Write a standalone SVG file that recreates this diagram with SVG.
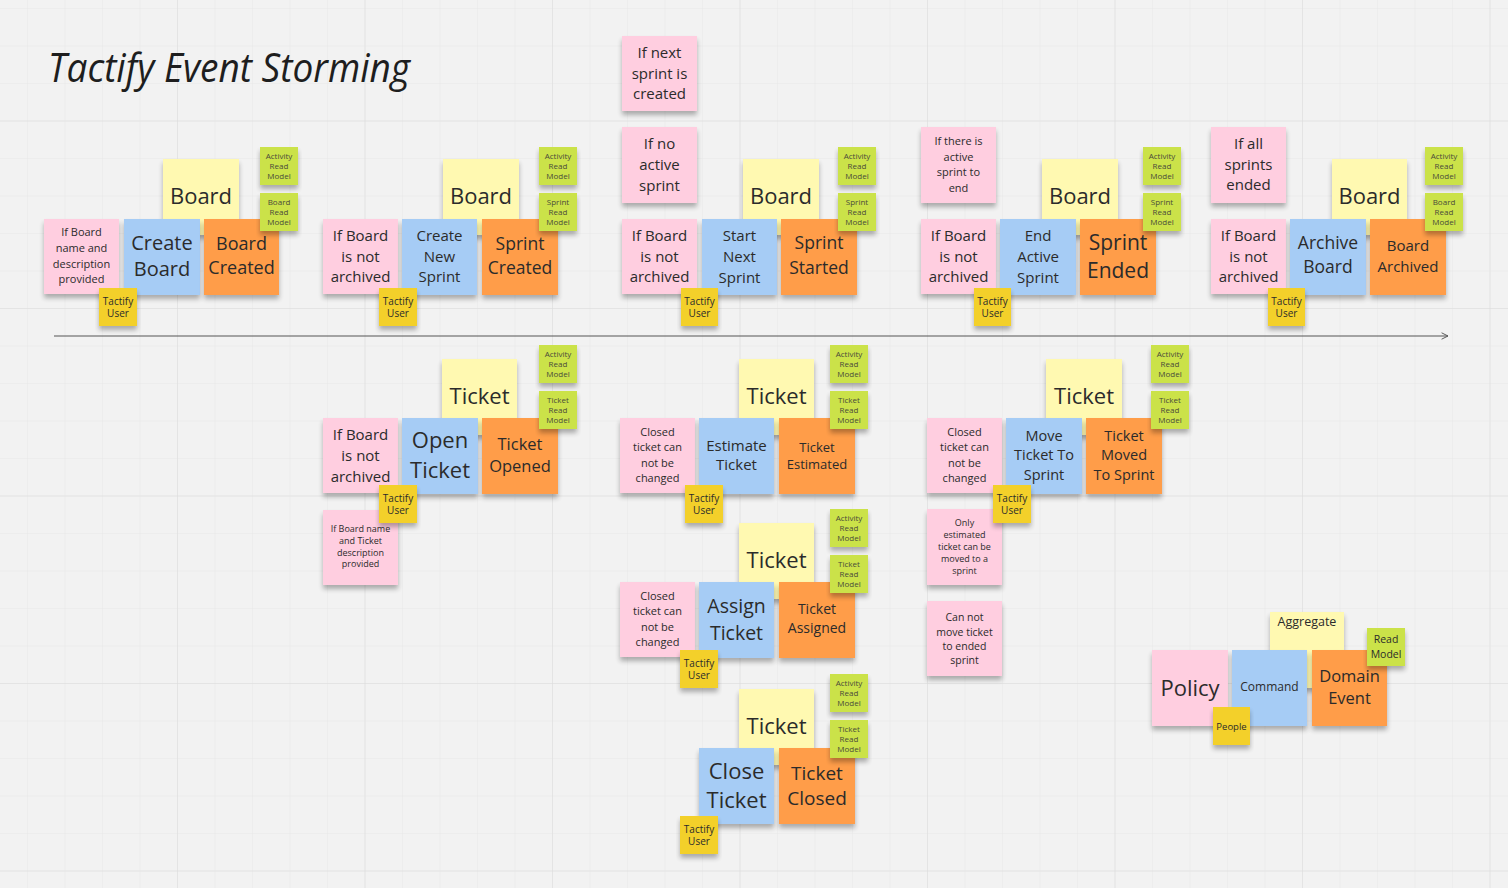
<svg xmlns="http://www.w3.org/2000/svg" width="1508" height="888" viewBox="0 0 1508 888">
<defs>
<pattern id="minor" x="27" y="8" width="37.5" height="37.5" patternUnits="userSpaceOnUse"><path d="M0 0H37.5M0 0V37.5" fill="none" stroke="#e7e7e7" stroke-width="1"/></pattern>
<pattern id="major" x="-10.5" y="-67" width="187.5" height="187.5" patternUnits="userSpaceOnUse"><path d="M0 0H187.5M0 0V187.5" fill="none" stroke="#dcdcdc" stroke-width="1"/></pattern>
<filter id="sh" x="-10%" y="-10%" width="120%" height="135%"><feGaussianBlur in="SourceAlpha" stdDeviation="2.5"/><feOffset dy="4"/><feComponentTransfer><feFuncA type="linear" slope="0.3"/></feComponentTransfer><feMerge><feMergeNode/><feMergeNode in="SourceGraphic"/></feMerge></filter>
<marker id="ah" viewBox="0 0 10 10" refX="9" refY="5" markerWidth="8" markerHeight="8" orient="auto" markerUnits="userSpaceOnUse"><path d="M1 1L9 5L1 9" fill="none" stroke="#555" stroke-width="1.2"/></marker>
</defs>
<style>
rect.n{filter:url(#sh)}
.pk{fill:#ffcee0}.bl{fill:#a6ccf5}.or{fill:#ff9d48}.ye{fill:#fff9b1}.gr{fill:#cbe24a}.tu{fill:#f3d02a}
text{font-family:"Open Sans","Liberation Sans",sans-serif;fill:#2b2b2b;text-anchor:middle}
text.title{text-anchor:start;fill:#1e1e1e;font-style:italic;font-size:40px}
.g8{font-size:8px;fill:#4a4a3a}.u{font-size:10px}
.s9{font-size:9px}.s11{font-size:11px}.s15{font-size:15px}.s22{font-size:22px}
</style>
<rect width="1508" height="888" fill="#f2f2f2"/>
<rect width="1508" height="888" fill="url(#minor)"/>
<rect width="1508" height="888" fill="url(#major)"/>
<text class="title" x="48" y="82" textLength="362" lengthAdjust="spacingAndGlyphs">Tactify Event Storming</text>
<g id="connectors"><line x1="54" y1="336" x2="1448" y2="336" stroke="#555" stroke-width="1" marker-end="url(#ah)"/></g>

<g id="g1">
<g id="n1-agg"><rect class="n ye" x="163" y="159" width="76" height="76"/><text class="s22" x="201" y="204">Board</text></g>
<g id="n1-pol"><rect class="n pk" x="44" y="219" width="75" height="75"/><text class="s11"><tspan x="81.5" y="236">If Board</tspan><tspan x="81.5" y="252">name and</tspan><tspan x="81.5" y="268">description</tspan><tspan x="81.5" y="283">provided</tspan></text></g>
<g id="n1-cmd"><rect class="n bl" x="124" y="219" width="76" height="76"/><text font-size="20"><tspan x="162" y="250">Create</tspan><tspan x="162" y="276">Board</tspan></text></g>
<g id="n1-evt"><rect class="n or" x="204" y="219" width="75" height="76"/><text font-size="18"><tspan x="241.5" y="250">Board</tspan><tspan x="241.5" y="274">Created</tspan></text></g>
<g id="n1-rm1"><rect class="n gr" x="260" y="147" width="38" height="38"/><text class="g8"><tspan x="279" y="159">Activity</tspan><tspan x="279" y="169">Read</tspan><tspan x="279" y="179">Model</tspan></text></g>
<g id="n1-rm2"><rect class="n gr" x="260" y="193" width="38" height="38"/><text class="g8"><tspan x="279" y="205">Board</tspan><tspan x="279" y="215">Read</tspan><tspan x="279" y="225">Model</tspan></text></g>
<g id="n1-usr"><rect class="n tu" x="99" y="288" width="38" height="38"/><text class="u"><tspan x="118" y="304.5">Tactify</tspan><tspan x="118" y="316.5">User</tspan></text></g>
</g>

<g id="g2">
<g id="n2-agg"><rect class="n ye" x="443" y="159" width="76" height="76"/><text class="s22" x="481" y="204">Board</text></g>
<g id="n2-pol"><rect class="n pk" x="323" y="219" width="75" height="75"/><text class="s15"><tspan x="360.5" y="241">If Board</tspan><tspan x="360.5" y="262">is not</tspan><tspan x="360.5" y="282">archived</tspan></text></g>
<g id="n2-cmd"><rect class="n bl" x="402" y="219" width="75" height="76"/><text class="s15"><tspan x="439.5" y="241">Create</tspan><tspan x="439.5" y="262">New</tspan><tspan x="439.5" y="282">Sprint</tspan></text></g>
<g id="n2-evt"><rect class="n or" x="482" y="219" width="76" height="76"/><text font-size="17.5"><tspan x="520" y="250">Sprint</tspan><tspan x="520" y="274">Created</tspan></text></g>
<g id="n2-rm1"><rect class="n gr" x="539" y="147" width="38" height="38"/><text class="g8"><tspan x="558" y="159">Activity</tspan><tspan x="558" y="169">Read</tspan><tspan x="558" y="179">Model</tspan></text></g>
<g id="n2-rm2"><rect class="n gr" x="539" y="193" width="38" height="38"/><text class="g8"><tspan x="558" y="205">Sprint</tspan><tspan x="558" y="215">Read</tspan><tspan x="558" y="225">Model</tspan></text></g>
<g id="n2-usr"><rect class="n tu" x="379" y="288" width="38" height="38"/><text class="u"><tspan x="398" y="304.5">Tactify</tspan><tspan x="398" y="316.5">User</tspan></text></g>
</g>

<g id="g3">
<g id="n3-pol1"><rect class="n pk" x="622" y="36" width="75" height="75"/><text class="s15"><tspan x="659.5" y="58">If next</tspan><tspan x="659.5" y="79">sprint is</tspan><tspan x="659.5" y="99">created</tspan></text></g>
<g id="n3-pol2"><rect class="n pk" x="622" y="127" width="75" height="76"/><text class="s15"><tspan x="659.5" y="149">If no</tspan><tspan x="659.5" y="170">active</tspan><tspan x="659.5" y="191">sprint</tspan></text></g>
<g id="n3-agg"><rect class="n ye" x="743" y="159" width="76" height="76"/><text class="s22" x="781" y="204">Board</text></g>
<g id="n3-pol3"><rect class="n pk" x="622" y="219" width="75" height="75"/><text class="s15"><tspan x="659.5" y="241">If Board</tspan><tspan x="659.5" y="262">is not</tspan><tspan x="659.5" y="282">archived</tspan></text></g>
<g id="n3-cmd"><rect class="n bl" x="702" y="219" width="75" height="76"/><text class="s15"><tspan x="739.5" y="241">Start</tspan><tspan x="739.5" y="262">Next</tspan><tspan x="739.5" y="283">Sprint</tspan></text></g>
<g id="n3-evt"><rect class="n or" x="781" y="219" width="76" height="76"/><text font-size="17.5"><tspan x="819" y="249">Sprint</tspan><tspan x="819" y="274">Started</tspan></text></g>
<g id="n3-rm1"><rect class="n gr" x="838" y="147" width="38" height="38"/><text class="g8"><tspan x="857" y="159">Activity</tspan><tspan x="857" y="169">Read</tspan><tspan x="857" y="179">Model</tspan></text></g>
<g id="n3-rm2"><rect class="n gr" x="838" y="193" width="38" height="38"/><text class="g8"><tspan x="857" y="205">Sprint</tspan><tspan x="857" y="215">Read</tspan><tspan x="857" y="225">Model</tspan></text></g>
<g id="n3-usr"><rect class="n tu" x="681" y="288" width="37" height="38"/><text class="u"><tspan x="699.5" y="304.5">Tactify</tspan><tspan x="699.5" y="316.5">User</tspan></text></g>
</g>

<g id="g4">
<g id="n4-pol1"><rect class="n pk" x="921" y="127" width="75" height="76"/><text class="s11"><tspan x="958.5" y="145">If there is</tspan><tspan x="958.5" y="161">active</tspan><tspan x="958.5" y="176">sprint to</tspan><tspan x="958.5" y="192">end</tspan></text></g>
<g id="n4-agg"><rect class="n ye" x="1042" y="159" width="76" height="76"/><text class="s22" x="1080" y="204">Board</text></g>
<g id="n4-pol2"><rect class="n pk" x="921" y="219" width="75" height="75"/><text class="s15"><tspan x="958.5" y="241">If Board</tspan><tspan x="958.5" y="262">is not</tspan><tspan x="958.5" y="282">archived</tspan></text></g>
<g id="n4-cmd"><rect class="n bl" x="1000" y="219" width="76" height="76"/><text class="s15"><tspan x="1038" y="241">End</tspan><tspan x="1038" y="262">Active</tspan><tspan x="1038" y="283">Sprint</tspan></text></g>
<g id="n4-evt"><rect class="n or" x="1080" y="219" width="76" height="76"/><text font-size="21"><tspan x="1118" y="250">Sprint</tspan><tspan x="1118" y="278">Ended</tspan></text></g>
<g id="n4-rm1"><rect class="n gr" x="1143" y="147" width="38" height="38"/><text class="g8"><tspan x="1162" y="159">Activity</tspan><tspan x="1162" y="169">Read</tspan><tspan x="1162" y="179">Model</tspan></text></g>
<g id="n4-rm2"><rect class="n gr" x="1143" y="193" width="38" height="38"/><text class="g8"><tspan x="1162" y="205">Sprint</tspan><tspan x="1162" y="215">Read</tspan><tspan x="1162" y="225">Model</tspan></text></g>
<g id="n4-usr"><rect class="n tu" x="974" y="288" width="37" height="38"/><text class="u"><tspan x="992.5" y="304.5">Tactify</tspan><tspan x="992.5" y="316.5">User</tspan></text></g>
</g>

<g id="g5">
<g id="n5-pol1"><rect class="n pk" x="1211" y="127" width="75" height="76"/><text class="s15"><tspan x="1248.5" y="149">If all</tspan><tspan x="1248.5" y="170">sprints</tspan><tspan x="1248.5" y="190">ended</tspan></text></g>
<g id="n5-agg"><rect class="n ye" x="1332" y="159" width="75" height="76"/><text class="s22" x="1369.5" y="204">Board</text></g>
<g id="n5-pol2"><rect class="n pk" x="1211" y="219" width="75" height="75"/><text class="s15"><tspan x="1248.5" y="241">If Board</tspan><tspan x="1248.5" y="262">is not</tspan><tspan x="1248.5" y="282">archived</tspan></text></g>
<g id="n5-cmd"><rect class="n bl" x="1290" y="219" width="76" height="76"/><text font-size="17.5"><tspan x="1328" y="249">Archive</tspan><tspan x="1328" y="273">Board</tspan></text></g>
<g id="n5-evt"><rect class="n or" x="1370" y="219" width="76" height="76"/><text class="s15"><tspan x="1408" y="251">Board</tspan><tspan x="1408" y="272">Archived</tspan></text></g>
<g id="n5-rm1"><rect class="n gr" x="1425" y="147" width="38" height="38"/><text class="g8"><tspan x="1444" y="159">Activity</tspan><tspan x="1444" y="169">Read</tspan><tspan x="1444" y="179">Model</tspan></text></g>
<g id="n5-rm2"><rect class="n gr" x="1425" y="193" width="38" height="38"/><text class="g8"><tspan x="1444" y="205">Board</tspan><tspan x="1444" y="215">Read</tspan><tspan x="1444" y="225">Model</tspan></text></g>
<g id="n5-usr"><rect class="n tu" x="1268" y="288" width="37" height="38"/><text class="u"><tspan x="1286.5" y="304.5">Tactify</tspan><tspan x="1286.5" y="316.5">User</tspan></text></g>
</g>

<g id="g6">
<g id="n6-agg"><rect class="n ye" x="442" y="359" width="75" height="76"/><text class="s22" x="479.5" y="404">Ticket</text></g>
<g id="n6-pol1"><rect class="n pk" x="323" y="418" width="75" height="75"/><text class="s15"><tspan x="360.5" y="440">If Board</tspan><tspan x="360.5" y="461">is not</tspan><tspan x="360.5" y="482">archived</tspan></text></g>
<g id="n6-pol2"><rect class="n pk" x="323" y="510" width="75" height="75"/><text class="s9"><tspan x="360.5" y="532">If Board name</tspan><tspan x="360.5" y="544">and Ticket</tspan><tspan x="360.5" y="556">description</tspan><tspan x="360.5" y="567">provided</tspan></text></g>
<g id="n6-cmd"><rect class="n bl" x="402" y="418" width="76" height="76"/><text class="s22"><tspan x="440" y="448">Open</tspan><tspan x="440" y="478">Ticket</tspan></text></g>
<g id="n6-evt"><rect class="n or" x="482" y="418" width="76" height="76"/><text font-size="16.5"><tspan x="520" y="450">Ticket</tspan><tspan x="520" y="472">Opened</tspan></text></g>
<g id="n6-rm1"><rect class="n gr" x="539" y="345" width="38" height="38"/><text class="g8"><tspan x="558" y="357">Activity</tspan><tspan x="558" y="367">Read</tspan><tspan x="558" y="377">Model</tspan></text></g>
<g id="n6-rm2"><rect class="n gr" x="539" y="391" width="38" height="38"/><text class="g8"><tspan x="558" y="403">Ticket</tspan><tspan x="558" y="413">Read</tspan><tspan x="558" y="423">Model</tspan></text></g>
<g id="n6-usr"><rect class="n tu" x="379" y="485" width="38" height="38"/><text class="u"><tspan x="398" y="501.5">Tactify</tspan><tspan x="398" y="513.5">User</tspan></text></g>
</g>

<g id="g7">
<g id="n7-agg"><rect class="n ye" x="739" y="359" width="75" height="76"/><text class="s22" x="776.5" y="404">Ticket</text></g>
<g id="n7-pol"><rect class="n pk" x="620" y="418" width="75" height="75"/><text class="s11"><tspan x="657.5" y="436">Closed</tspan><tspan x="657.5" y="451">ticket can</tspan><tspan x="657.5" y="467">not be</tspan><tspan x="657.5" y="482">changed</tspan></text></g>
<g id="n7-cmd"><rect class="n bl" x="699" y="418" width="75" height="76"/><text class="s15"><tspan x="736.5" y="451">Estimate</tspan><tspan x="736.5" y="470">Ticket</tspan></text></g>
<g id="n7-evt"><rect class="n or" x="779" y="418" width="76" height="76"/><text font-size="13"><tspan x="817" y="452">Ticket</tspan><tspan x="817" y="469">Estimated</tspan></text></g>
<g id="n7-rm1"><rect class="n gr" x="830" y="345" width="38" height="38"/><text class="g8"><tspan x="849" y="357">Activity</tspan><tspan x="849" y="367">Read</tspan><tspan x="849" y="377">Model</tspan></text></g>
<g id="n7-rm2"><rect class="n gr" x="830" y="391" width="38" height="38"/><text class="g8"><tspan x="849" y="403">Ticket</tspan><tspan x="849" y="413">Read</tspan><tspan x="849" y="423">Model</tspan></text></g>
<g id="n7-usr"><rect class="n tu" x="685" y="485" width="38" height="38"/><text class="u"><tspan x="704" y="501.5">Tactify</tspan><tspan x="704" y="513.5">User</tspan></text></g>
</g>

<g id="g8">
<g id="n8-agg"><rect class="n ye" x="739" y="523" width="75" height="76"/><text class="s22" x="776.5" y="568">Ticket</text></g>
<g id="n8-pol"><rect class="n pk" x="620" y="582" width="75" height="75"/><text class="s11"><tspan x="657.5" y="600">Closed</tspan><tspan x="657.5" y="615">ticket can</tspan><tspan x="657.5" y="631">not be</tspan><tspan x="657.5" y="646">changed</tspan></text></g>
<g id="n8-cmd"><rect class="n bl" x="699" y="582" width="75" height="76"/><text font-size="19.5"><tspan x="736.5" y="613">Assign</tspan><tspan x="736.5" y="640">Ticket</tspan></text></g>
<g id="n8-evt"><rect class="n or" x="779" y="582" width="76" height="76"/><text font-size="14"><tspan x="817" y="614">Ticket</tspan><tspan x="817" y="633">Assigned</tspan></text></g>
<g id="n8-rm1"><rect class="n gr" x="830" y="509" width="38" height="38"/><text class="g8"><tspan x="849" y="521">Activity</tspan><tspan x="849" y="531">Read</tspan><tspan x="849" y="541">Model</tspan></text></g>
<g id="n8-rm2"><rect class="n gr" x="830" y="555" width="38" height="38"/><text class="g8"><tspan x="849" y="567">Ticket</tspan><tspan x="849" y="577">Read</tspan><tspan x="849" y="587">Model</tspan></text></g>
<g id="n8-usr"><rect class="n tu" x="680" y="650" width="38" height="38"/><text class="u"><tspan x="699" y="666.5">Tactify</tspan><tspan x="699" y="678.5">User</tspan></text></g>
</g>

<g id="g9">
<g id="n9-agg"><rect class="n ye" x="739" y="689" width="75" height="76"/><text class="s22" x="776.5" y="734">Ticket</text></g>
<g id="n9-cmd"><rect class="n bl" x="699" y="748" width="75" height="76"/><text class="s22"><tspan x="736.5" y="779">Close</tspan><tspan x="736.5" y="808">Ticket</tspan></text></g>
<g id="n9-evt"><rect class="n or" x="779" y="748" width="76" height="76"/><text font-size="19"><tspan x="817" y="780">Ticket</tspan><tspan x="817" y="805">Closed</tspan></text></g>
<g id="n9-rm1"><rect class="n gr" x="830" y="674" width="38" height="38"/><text class="g8"><tspan x="849" y="686">Activity</tspan><tspan x="849" y="696">Read</tspan><tspan x="849" y="706">Model</tspan></text></g>
<g id="n9-rm2"><rect class="n gr" x="830" y="720" width="38" height="38"/><text class="g8"><tspan x="849" y="732">Ticket</tspan><tspan x="849" y="742">Read</tspan><tspan x="849" y="752">Model</tspan></text></g>
<g id="n9-usr"><rect class="n tu" x="680" y="816" width="38" height="38"/><text class="u"><tspan x="699" y="832.5">Tactify</tspan><tspan x="699" y="844.5">User</tspan></text></g>
</g>

<g id="g10">
<g id="n10-agg"><rect class="n ye" x="1046" y="359" width="76" height="76"/><text class="s22" x="1084" y="404">Ticket</text></g>
<g id="n10-pol1"><rect class="n pk" x="927" y="418" width="75" height="75"/><text class="s11"><tspan x="964.5" y="436">Closed</tspan><tspan x="964.5" y="451">ticket can</tspan><tspan x="964.5" y="467">not be</tspan><tspan x="964.5" y="482">changed</tspan></text></g>
<g id="n10-pol2"><rect class="n pk" x="927" y="509" width="75" height="76"/><text class="s9"><tspan x="964.5" y="526">Only</tspan><tspan x="964.5" y="538">estimated</tspan><tspan x="964.5" y="550">ticket can be</tspan><tspan x="964.5" y="562">moved to a</tspan><tspan x="964.5" y="574">sprint</tspan></text></g>
<g id="n10-pol3"><rect class="n pk" x="927" y="601" width="75" height="75"/><text font-size="10.5"><tspan x="964.5" y="621">Can not</tspan><tspan x="964.5" y="636">move ticket</tspan><tspan x="964.5" y="650">to ended</tspan><tspan x="964.5" y="664">sprint</tspan></text></g>
<g id="n10-cmd"><rect class="n bl" x="1006" y="418" width="76" height="76"/><text font-size="14.5"><tspan x="1044" y="441">Move</tspan><tspan x="1044" y="460">Ticket To</tspan><tspan x="1044" y="480">Sprint</tspan></text></g>
<g id="n10-evt"><rect class="n or" x="1086" y="418" width="76" height="76"/><text font-size="14.5"><tspan x="1124" y="441">Ticket</tspan><tspan x="1124" y="460">Moved</tspan><tspan x="1124" y="480">To Sprint</tspan></text></g>
<g id="n10-rm1"><rect class="n gr" x="1151" y="345" width="38" height="38"/><text class="g8"><tspan x="1170" y="357">Activity</tspan><tspan x="1170" y="367">Read</tspan><tspan x="1170" y="377">Model</tspan></text></g>
<g id="n10-rm2"><rect class="n gr" x="1151" y="391" width="38" height="38"/><text class="g8"><tspan x="1170" y="403">Ticket</tspan><tspan x="1170" y="413">Read</tspan><tspan x="1170" y="423">Model</tspan></text></g>
<g id="n10-usr"><rect class="n tu" x="993" y="485" width="38" height="38"/><text class="u"><tspan x="1012" y="501.5">Tactify</tspan><tspan x="1012" y="513.5">User</tspan></text></g>
</g>

<g id="legend">
<g id="lg-agg"><rect class="n ye" x="1270" y="612" width="74" height="76"/><text font-size="12.5" x="1307" y="626">Aggregate</text></g>
<g id="lg-pol"><rect class="n pk" x="1152" y="650" width="76" height="76"/><text class="s22" x="1190" y="696">Policy</text></g>
<g id="lg-cmd"><rect class="n bl" x="1232" y="650" width="75" height="76"/><text font-size="12" x="1269.5" y="691">Command</text></g>
<g id="lg-evt"><rect class="n or" x="1312" y="650" width="75" height="76"/><text font-size="16.5"><tspan x="1349.5" y="682">Domain</tspan><tspan x="1349.5" y="704">Event</tspan></text></g>
<g id="lg-rm"><rect class="n gr" x="1367" y="628" width="38" height="38"/><text font-size="10.5"><tspan x="1386" y="643">Read</tspan><tspan x="1386" y="658">Model</tspan></text></g>
<g id="lg-ppl"><rect class="n tu" x="1213" y="707" width="37" height="38"/><text font-size="9.5" x="1231.5" y="730">People</text></g>
</g>
</svg>
